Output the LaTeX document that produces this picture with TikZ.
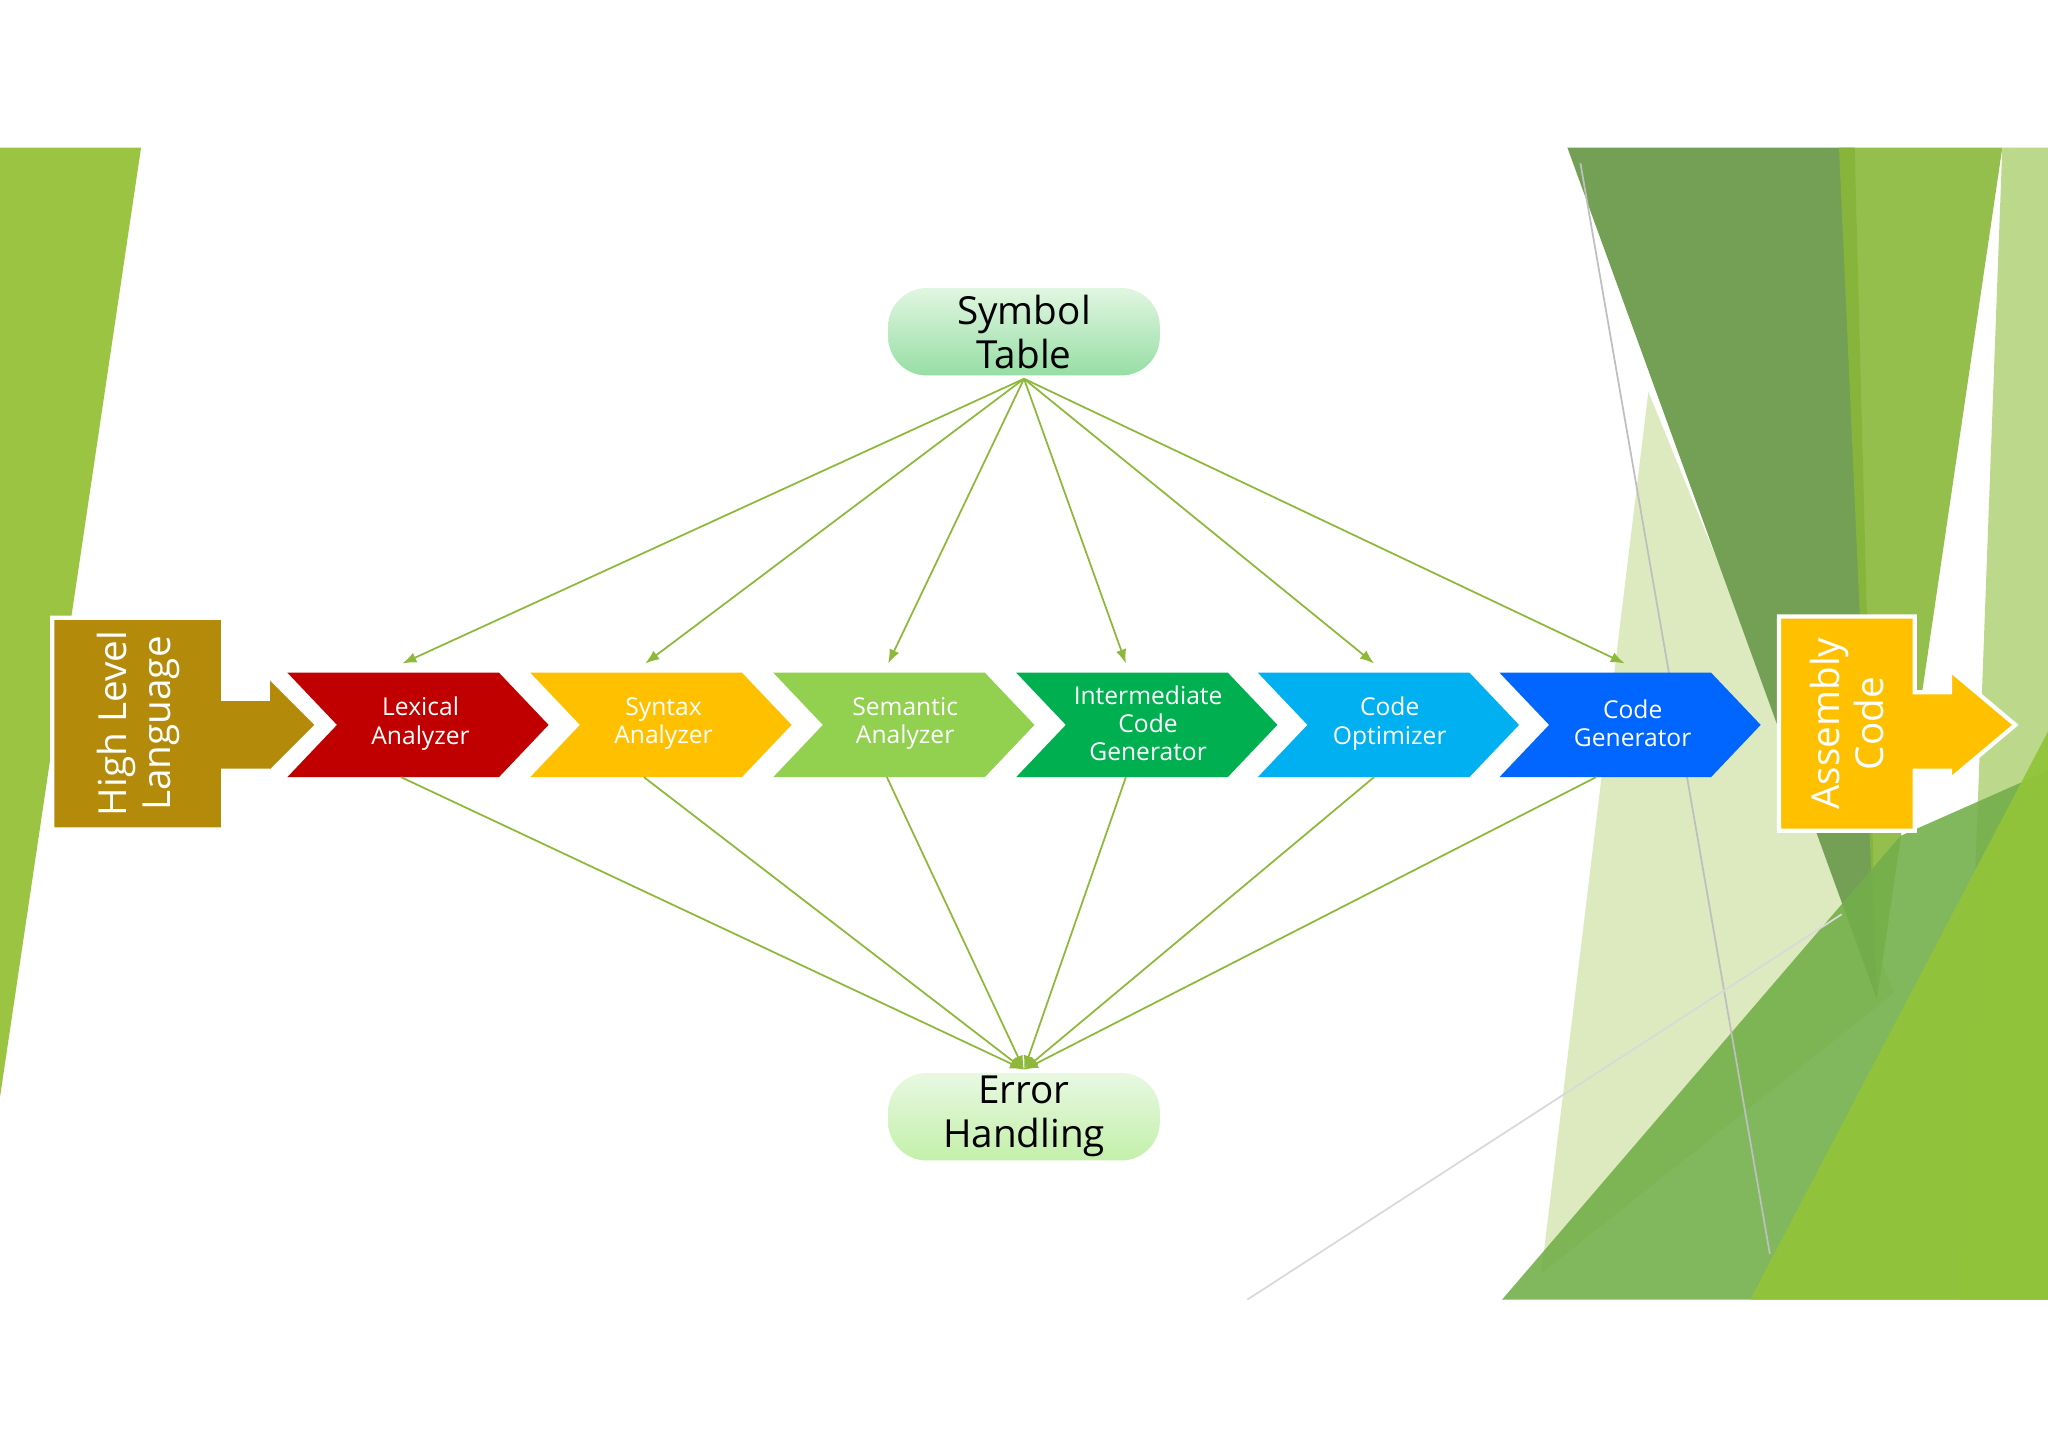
\documentclass[tikz,border=0pt]{standalone}
\usepackage{fontspec}
\setmainfont{Open Sans}
\usetikzlibrary{arrows.meta}
\definecolor{lnk}{HTML}{8DB83A}
\begin{document}
\begin{tikzpicture}[x=0.1306mm,y=-0.1306mm,
 chev/.style={draw=none,fill=#1},
 ctext/.style={text=white,font=\fontsize{7}{8}\selectfont,align=center},
 pill/.style={rounded corners=11pt,minimum width=208*0.1306mm,minimum height=67*0.1306mm,font=\fontsize{11}{12.5}\selectfont,align=center,inner sep=0pt},
 lk/.style={draw=lnk,line width=0.5pt,-{Latex[length=4pt,width=3pt]}}]
\useasboundingbox (0,0) rectangle (1568,1108);
% background decorations
\fill[color={rgb,255:red,154;green,196;blue,66}] (0,113)--(108,113)--(0,840)--cycle;
\fill[color={rgb,255:red,160;green,200;blue,90},opacity=0.7] (1533,113)--(1568,113)--(1568,995)--(1500,995)--cycle;
\fill[color={rgb,255:red,217;green,232;blue,184},opacity=0.9] (1262,300)--(1450,760)--(1180,975)--cycle;
\fill[color={rgb,255:red,115;green,160;blue,85}] (1200,113)--(1420,113)--(1437,765)--cycle;
\fill[color={rgb,255:red,138;green,184;blue,58},opacity=0.9] (1408,113)--(1533,113)--(1437,765)--cycle;
\fill[color={rgb,255:red,115;green,175;blue,75},opacity=0.9] (1150,995)--(1455,640)--(1568,590)--(1568,995)--cycle;
\fill[color={rgb,255:red,146;green,196;blue,58},opacity=0.95] (1340,995)--(1568,560)--(1568,995)--cycle;
\draw[gray!50,line width=0.5pt] (1210,125)--(1355,960);
\draw[gray!30,line width=0.5pt] (955,995)--(1410,700);
% High Level Language
\fill[color={rgb,255:red,180;green,138;blue,10},draw=white,line width=1.2pt] (40,473)--(171,473)--(171,535)--(205,535)--(205,517)--(243,555)--(205,593)--(205,590)--(171,590)--(171,635)--(40,635)--cycle;
\node[rotate=90,text=white,font=\fontsize{11}{12.5}\selectfont,align=center] (hll) at (106,554) {High Level\\Language};
% chevrons
\foreach \x/\c/\n in {220/C00000/a,406/FFC000/b,592/92D050/c,778/00B050/d,963/00B0F0/e,1148/0066FF/f}{
 \definecolor{cc}{HTML}{\c}
 \fill[cc] (\x,515)--(\x+162,515)--(\x+200,555)--(\x+162,595)--(\x,595)--(\x+38,555)--cycle;
 \coordinate (t\n) at (\x+88,508);
 \coordinate (b\n) at (\x+87,595);
}
\node[ctext] (la) at (322,554) {Lexical\\Analyzer};
\node[ctext] (sa) at (508,554) {Syntax\\Analyzer};
\node[ctext] (se) at (693,554) {Semantic\\Analyzer};
\node[ctext] (ic) at (879,554) {Intermediate\\Code\\Generator};
\node[ctext] (co) at (1064,554) {Code\\Optimizer};
\node[ctext] (cg) at (1250,554) {Code\\Generator};
\coordinate (tf) at (1244,508);
\coordinate (bf) at (1222,595);
\coordinate (ta) at (308,508);
\coordinate (td) at (862,508);
\coordinate (te) at (1052,508);
\coordinate (bd) at (862,595);
\coordinate (be) at (1052,595);
% Assembly
\fill[color={rgb,255:red,255;green,192;blue,0},draw=white,line width=1.2pt] (1362,472)--(1466,472)--(1466,530)--(1493,530)--(1493,513)--(1543,555)--(1493,597)--(1493,590)--(1466,590)--(1466,636)--(1362,636)--cycle;
\node[rotate=90,text=white,font=\fontsize{11}{12.5}\selectfont,align=center] (asm) at (1414,554) {Assembly\\Code};
% pills
\node[pill,top color={rgb,255:red,225;green,246;blue,225},bottom color={rgb,255:red,150;green,222;blue,165}] (sym) at (784,254) {Symbol\\Table};
\node[pill,top color={rgb,255:red,232;green,248;blue,225},bottom color={rgb,255:red,195;green,240;blue,170}] (err) at (784,855) {Error\\Handling};
\coordinate (sb) at (784,290);
\coordinate (et) at (784,819);
\foreach \n in {a,b,c,d,e,f}{
 \draw[lk] (sb)--(t\n);
 \draw[lk] (b\n)--(et);
}
\end{tikzpicture}
\end{document}
